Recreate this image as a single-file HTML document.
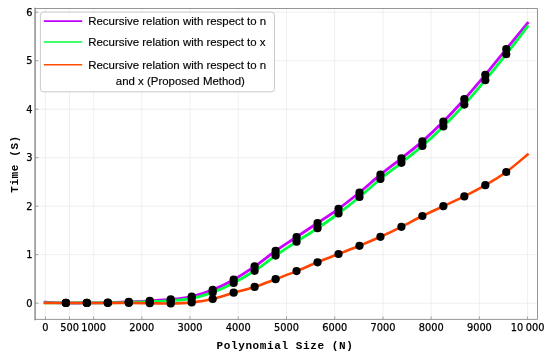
<!DOCTYPE html>
<html lang="en"><head><meta charset="utf-8"><title>Time vs Polynomial Size</title>
<style>
html,body{margin:0;padding:0;background:#fff;}
body{width:550px;height:355px;overflow:hidden;}
svg{display:block;}
.tick{font-family:"DejaVu Sans","Liberation Sans",sans-serif;font-size:9.8px;fill:#000;stroke:#000;stroke-width:0.25px;}
.axl{font-family:"Liberation Mono","DejaVu Sans Mono",monospace;font-weight:bold;font-size:11px;letter-spacing:0.6px;fill:#000;}
.leg{font-family:"Liberation Sans","DejaVu Sans",sans-serif;font-size:11.45px;fill:#000;stroke:#000;stroke-width:0.15px;}
</style></head><body>
<svg width="550" height="355" viewBox="0 0 550 355">
<rect x="0" y="0" width="550" height="355" fill="#ffffff"/>
<g stroke="#e9e9e9" stroke-width="0.7" fill="none">
<line x1="45.40" y1="8.50" x2="45.40" y2="319.40"/>
<line x1="69.51" y1="8.50" x2="69.51" y2="319.40"/>
<line x1="93.62" y1="8.50" x2="93.62" y2="319.40"/>
<line x1="141.84" y1="8.50" x2="141.84" y2="319.40"/>
<line x1="190.06" y1="8.50" x2="190.06" y2="319.40"/>
<line x1="238.28" y1="8.50" x2="238.28" y2="319.40"/>
<line x1="286.50" y1="8.50" x2="286.50" y2="319.40"/>
<line x1="334.72" y1="8.50" x2="334.72" y2="319.40"/>
<line x1="382.94" y1="8.50" x2="382.94" y2="319.40"/>
<line x1="431.16" y1="8.50" x2="431.16" y2="319.40"/>
<line x1="479.38" y1="8.50" x2="479.38" y2="319.40"/>
<line x1="527.60" y1="8.50" x2="527.60" y2="319.40"/>
<line x1="35.30" y1="303.20" x2="537.50" y2="303.20"/>
<line x1="35.30" y1="254.70" x2="537.50" y2="254.70"/>
<line x1="35.30" y1="206.20" x2="537.50" y2="206.20"/>
<line x1="35.30" y1="157.70" x2="537.50" y2="157.70"/>
<line x1="35.30" y1="109.20" x2="537.50" y2="109.20"/>
<line x1="35.30" y1="60.70" x2="537.50" y2="60.70"/>
<line x1="35.30" y1="12.20" x2="537.50" y2="12.20"/>
</g>
<g fill="none" stroke-width="2.60" stroke-linejoin="round" stroke-linecap="square">
<path stroke="#cc00ff" stroke-width="2.85" d="M45.10 302.20 C48.57 302.32 58.94 302.78 65.90 302.90 C72.86 303.02 79.88 302.95 86.87 302.90 C93.86 302.85 100.85 302.78 107.84 302.60 C114.83 302.42 121.82 302.10 128.81 301.80 C135.80 301.50 142.79 301.20 149.78 300.80 C156.77 300.40 163.76 300.10 170.75 299.40 C177.74 298.70 184.73 298.18 191.72 296.60 C198.71 295.02 205.70 292.72 212.69 289.90 C219.68 287.08 226.67 283.62 233.66 279.70 C240.65 275.78 247.64 271.20 254.63 266.40 C261.62 261.60 268.61 255.80 275.60 250.90 C282.59 246.00 289.58 241.65 296.57 237.00 C303.56 232.35 310.55 227.70 317.54 223.00 C324.53 218.30 331.52 213.88 338.51 208.80 C345.50 203.72 352.49 198.18 359.48 192.50 C366.47 186.82 373.46 180.40 380.45 174.70 C387.44 169.00 394.43 163.85 401.42 158.30 C408.41 152.75 415.40 147.52 422.39 141.40 C429.38 135.28 436.37 128.63 443.36 121.60 C450.35 114.57 457.34 107.00 464.33 99.20 C471.32 91.40 478.31 83.15 485.30 74.80 C492.29 66.45 499.22 57.70 506.27 49.10 C513.32 40.50 524.05 27.52 527.60 23.20"/>
<path stroke="#00ff40" stroke-width="2.85" d="M45.10 302.90 C48.57 302.90 58.94 302.90 65.90 302.90 C72.86 302.90 79.88 302.92 86.87 302.90 C93.86 302.88 100.85 302.90 107.84 302.80 C114.83 302.70 121.82 302.50 128.81 302.30 C135.80 302.10 142.79 301.88 149.78 301.60 C156.77 301.32 163.76 301.12 170.75 300.60 C177.74 300.08 184.73 299.87 191.72 298.50 C198.71 297.13 205.70 294.98 212.69 292.40 C219.68 289.82 226.67 286.60 233.66 283.00 C240.65 279.40 247.64 275.37 254.63 270.80 C261.62 266.23 268.61 260.45 275.60 255.60 C282.59 250.75 289.58 246.27 296.57 241.70 C303.56 237.13 310.55 232.90 317.54 228.20 C324.53 223.50 331.52 218.70 338.51 213.50 C345.50 208.30 352.49 202.75 359.48 197.00 C366.47 191.25 373.46 184.70 380.45 179.00 C387.44 173.30 394.43 168.32 401.42 162.80 C408.41 157.28 415.40 151.95 422.39 145.90 C429.38 139.85 436.37 133.38 443.36 126.50 C450.35 119.62 457.34 112.32 464.33 104.60 C471.32 96.88 478.31 88.60 485.30 80.20 C492.29 71.80 499.22 63.17 506.27 54.20 C513.32 45.23 524.05 31.03 527.60 26.40"/>
<path stroke="#ff4500" d="M45.10 303.00 C48.57 303.00 58.94 303.00 65.90 303.00 C72.86 303.00 79.88 303.00 86.87 303.00 C93.86 303.00 100.85 303.02 107.84 303.00 C114.83 302.98 121.82 302.87 128.81 302.90 C135.80 302.93 142.79 303.10 149.78 303.20 C156.77 303.30 163.76 303.63 170.75 303.50 C177.74 303.37 184.73 303.15 191.72 302.40 C198.71 301.65 205.70 300.62 212.69 299.00 C219.68 297.38 226.67 294.72 233.66 292.70 C240.65 290.68 247.64 289.15 254.63 286.90 C261.62 284.65 268.61 281.83 275.60 279.20 C282.59 276.57 289.58 273.92 296.57 271.10 C303.56 268.28 310.55 265.15 317.54 262.30 C324.53 259.45 331.52 256.75 338.51 254.00 C345.50 251.25 352.49 248.67 359.48 245.80 C366.47 242.93 373.46 239.97 380.45 236.80 C387.44 233.63 394.43 230.27 401.42 226.80 C408.41 223.33 415.40 219.43 422.39 216.00 C429.38 212.57 436.37 209.47 443.36 206.20 C450.35 202.93 457.34 199.90 464.33 196.40 C471.32 192.90 478.31 189.27 485.30 185.20 C492.29 181.13 499.22 177.12 506.27 172.00 C513.32 166.88 524.05 157.42 527.60 154.50"/>
</g>
<g fill="#000000">
<circle cx="65.90" cy="302.90" r="4.10"/>
<circle cx="86.87" cy="302.90" r="4.10"/>
<circle cx="107.84" cy="302.60" r="4.10"/>
<circle cx="128.81" cy="301.80" r="4.10"/>
<circle cx="149.78" cy="300.80" r="4.10"/>
<circle cx="170.75" cy="299.40" r="4.10"/>
<circle cx="191.72" cy="296.60" r="4.10"/>
<circle cx="212.69" cy="289.90" r="4.10"/>
<circle cx="233.66" cy="279.70" r="4.10"/>
<circle cx="254.63" cy="266.40" r="4.10"/>
<circle cx="275.60" cy="250.90" r="4.10"/>
<circle cx="296.57" cy="237.00" r="4.10"/>
<circle cx="317.54" cy="223.00" r="4.10"/>
<circle cx="338.51" cy="208.80" r="4.10"/>
<circle cx="359.48" cy="192.50" r="4.10"/>
<circle cx="380.45" cy="174.70" r="4.10"/>
<circle cx="401.42" cy="158.30" r="4.10"/>
<circle cx="422.39" cy="141.40" r="4.10"/>
<circle cx="443.36" cy="121.60" r="4.10"/>
<circle cx="464.33" cy="99.20" r="4.10"/>
<circle cx="485.30" cy="74.80" r="4.10"/>
<circle cx="506.27" cy="49.10" r="4.10"/>
<circle cx="65.90" cy="302.90" r="4.10"/>
<circle cx="86.87" cy="302.90" r="4.10"/>
<circle cx="107.84" cy="302.80" r="4.10"/>
<circle cx="128.81" cy="302.30" r="4.10"/>
<circle cx="149.78" cy="301.60" r="4.10"/>
<circle cx="170.75" cy="300.60" r="4.10"/>
<circle cx="191.72" cy="298.50" r="4.10"/>
<circle cx="212.69" cy="292.40" r="4.10"/>
<circle cx="233.66" cy="283.00" r="4.10"/>
<circle cx="254.63" cy="270.80" r="4.10"/>
<circle cx="275.60" cy="255.60" r="4.10"/>
<circle cx="296.57" cy="241.70" r="4.10"/>
<circle cx="317.54" cy="228.20" r="4.10"/>
<circle cx="338.51" cy="213.50" r="4.10"/>
<circle cx="359.48" cy="197.00" r="4.10"/>
<circle cx="380.45" cy="179.00" r="4.10"/>
<circle cx="401.42" cy="162.80" r="4.10"/>
<circle cx="422.39" cy="145.90" r="4.10"/>
<circle cx="443.36" cy="126.50" r="4.10"/>
<circle cx="464.33" cy="104.60" r="4.10"/>
<circle cx="485.30" cy="80.20" r="4.10"/>
<circle cx="506.27" cy="54.20" r="4.10"/>
<circle cx="65.90" cy="303.00" r="4.10"/>
<circle cx="86.87" cy="303.00" r="4.10"/>
<circle cx="107.84" cy="303.00" r="4.10"/>
<circle cx="128.81" cy="302.90" r="4.10"/>
<circle cx="149.78" cy="303.20" r="4.10"/>
<circle cx="170.75" cy="303.50" r="4.10"/>
<circle cx="191.72" cy="302.40" r="4.10"/>
<circle cx="212.69" cy="299.00" r="4.10"/>
<circle cx="233.66" cy="292.70" r="4.10"/>
<circle cx="254.63" cy="286.90" r="4.10"/>
<circle cx="275.60" cy="279.20" r="4.10"/>
<circle cx="296.57" cy="271.10" r="4.10"/>
<circle cx="317.54" cy="262.30" r="4.10"/>
<circle cx="338.51" cy="254.00" r="4.10"/>
<circle cx="359.48" cy="245.80" r="4.10"/>
<circle cx="380.45" cy="236.80" r="4.10"/>
<circle cx="401.42" cy="226.80" r="4.10"/>
<circle cx="422.39" cy="216.00" r="4.10"/>
<circle cx="443.36" cy="206.20" r="4.10"/>
<circle cx="464.33" cy="196.40" r="4.10"/>
<circle cx="485.30" cy="185.20" r="4.10"/>
<circle cx="506.27" cy="172.00" r="4.10"/>
</g>
<g fill="none" stroke-linecap="square">
<line x1="35.10" y1="8.50" x2="35.10" y2="319.40" stroke="#8e8e8e" stroke-width="1.5"/>
<path d="M35.10 8.50 H537.50 V319.40 H35.10" stroke="#8a8a8a" stroke-width="0.9"/>
</g>
<g stroke="#8c8c8c" stroke-width="0.8" fill="none">
<line x1="45.40" y1="319.40" x2="45.40" y2="316.40"/>
<line x1="69.51" y1="319.40" x2="69.51" y2="316.40"/>
<line x1="93.62" y1="319.40" x2="93.62" y2="316.40"/>
<line x1="141.84" y1="319.40" x2="141.84" y2="316.40"/>
<line x1="190.06" y1="319.40" x2="190.06" y2="316.40"/>
<line x1="238.28" y1="319.40" x2="238.28" y2="316.40"/>
<line x1="286.50" y1="319.40" x2="286.50" y2="316.40"/>
<line x1="334.72" y1="319.40" x2="334.72" y2="316.40"/>
<line x1="382.94" y1="319.40" x2="382.94" y2="316.40"/>
<line x1="431.16" y1="319.40" x2="431.16" y2="316.40"/>
<line x1="479.38" y1="319.40" x2="479.38" y2="316.40"/>
<line x1="527.60" y1="319.40" x2="527.60" y2="316.40"/>
<line x1="35.30" y1="303.20" x2="38.30" y2="303.20"/>
<line x1="35.30" y1="254.70" x2="38.30" y2="254.70"/>
<line x1="35.30" y1="206.20" x2="38.30" y2="206.20"/>
<line x1="35.30" y1="157.70" x2="38.30" y2="157.70"/>
<line x1="35.30" y1="109.20" x2="38.30" y2="109.20"/>
<line x1="35.30" y1="60.70" x2="38.30" y2="60.70"/>
<line x1="35.30" y1="12.20" x2="38.30" y2="12.20"/>
</g>
<g class="tick" text-anchor="middle">
<text transform="translate(45.40 330.60) scale(1 1)">0</text>
<text transform="translate(69.51 330.60) scale(1 1)">500</text>
<text transform="translate(93.62 330.60) scale(1 1)">1000</text>
<text transform="translate(141.84 330.60) scale(1 1)">2000</text>
<text transform="translate(190.06 330.60) scale(1 1)">3000</text>
<text transform="translate(238.28 330.60) scale(1 1)">4000</text>
<text transform="translate(286.50 330.60) scale(1 1)">5000</text>
<text transform="translate(334.72 330.60) scale(1 1)">6000</text>
<text transform="translate(382.94 330.60) scale(1 1)">7000</text>
<text transform="translate(431.16 330.60) scale(1 1)">8000</text>
<text transform="translate(479.38 330.60) scale(1 1)">9000</text>
<text transform="translate(527.60 330.60) scale(1 1)">10 000</text>
</g>
<g class="tick" text-anchor="end">
<text transform="translate(32.40 306.80) scale(1 1)">0</text>
<text transform="translate(32.40 258.30) scale(1 1)">1</text>
<text transform="translate(32.40 209.80) scale(1 1)">2</text>
<text transform="translate(32.40 161.30) scale(1 1)">3</text>
<text transform="translate(32.40 112.80) scale(1 1)">4</text>
<text transform="translate(32.40 64.30) scale(1 1)">5</text>
<text transform="translate(32.40 15.80) scale(1 1)">6</text>
</g>
<text class="axl" text-anchor="middle" x="285.0" y="349">Polynomial Size (N)</text>
<text class="axl" text-anchor="middle" transform="translate(18 164) rotate(-90)">Time (S)</text>
<rect x="40.4" y="12.1" width="234.1" height="79.7" rx="3" ry="3" fill="#ffffff" fill-opacity="0.85" stroke="#c4c4c4" stroke-width="0.9"/>
<g stroke-width="1.6" fill="none">
<line x1="43.8" y1="21.1" x2="82.2" y2="21.1" stroke="#bf00ff"/>
<line x1="43.8" y1="42.0" x2="82.2" y2="42.0" stroke="#00ff40"/>
<line x1="43.8" y1="64.8" x2="82.2" y2="64.8" stroke="#ff4d00"/>
</g>
<g class="leg">
<text x="88.2" y="25.2">Recursive relation with respect to n</text>
<text x="88.2" y="46.1">Recursive relation with respect to x</text>
<text x="88.2" y="68.9">Recursive relation with respect to n</text>
<text x="115.8" y="84.7">and x (Proposed Method)</text>
</g>
</svg>
</body></html>
